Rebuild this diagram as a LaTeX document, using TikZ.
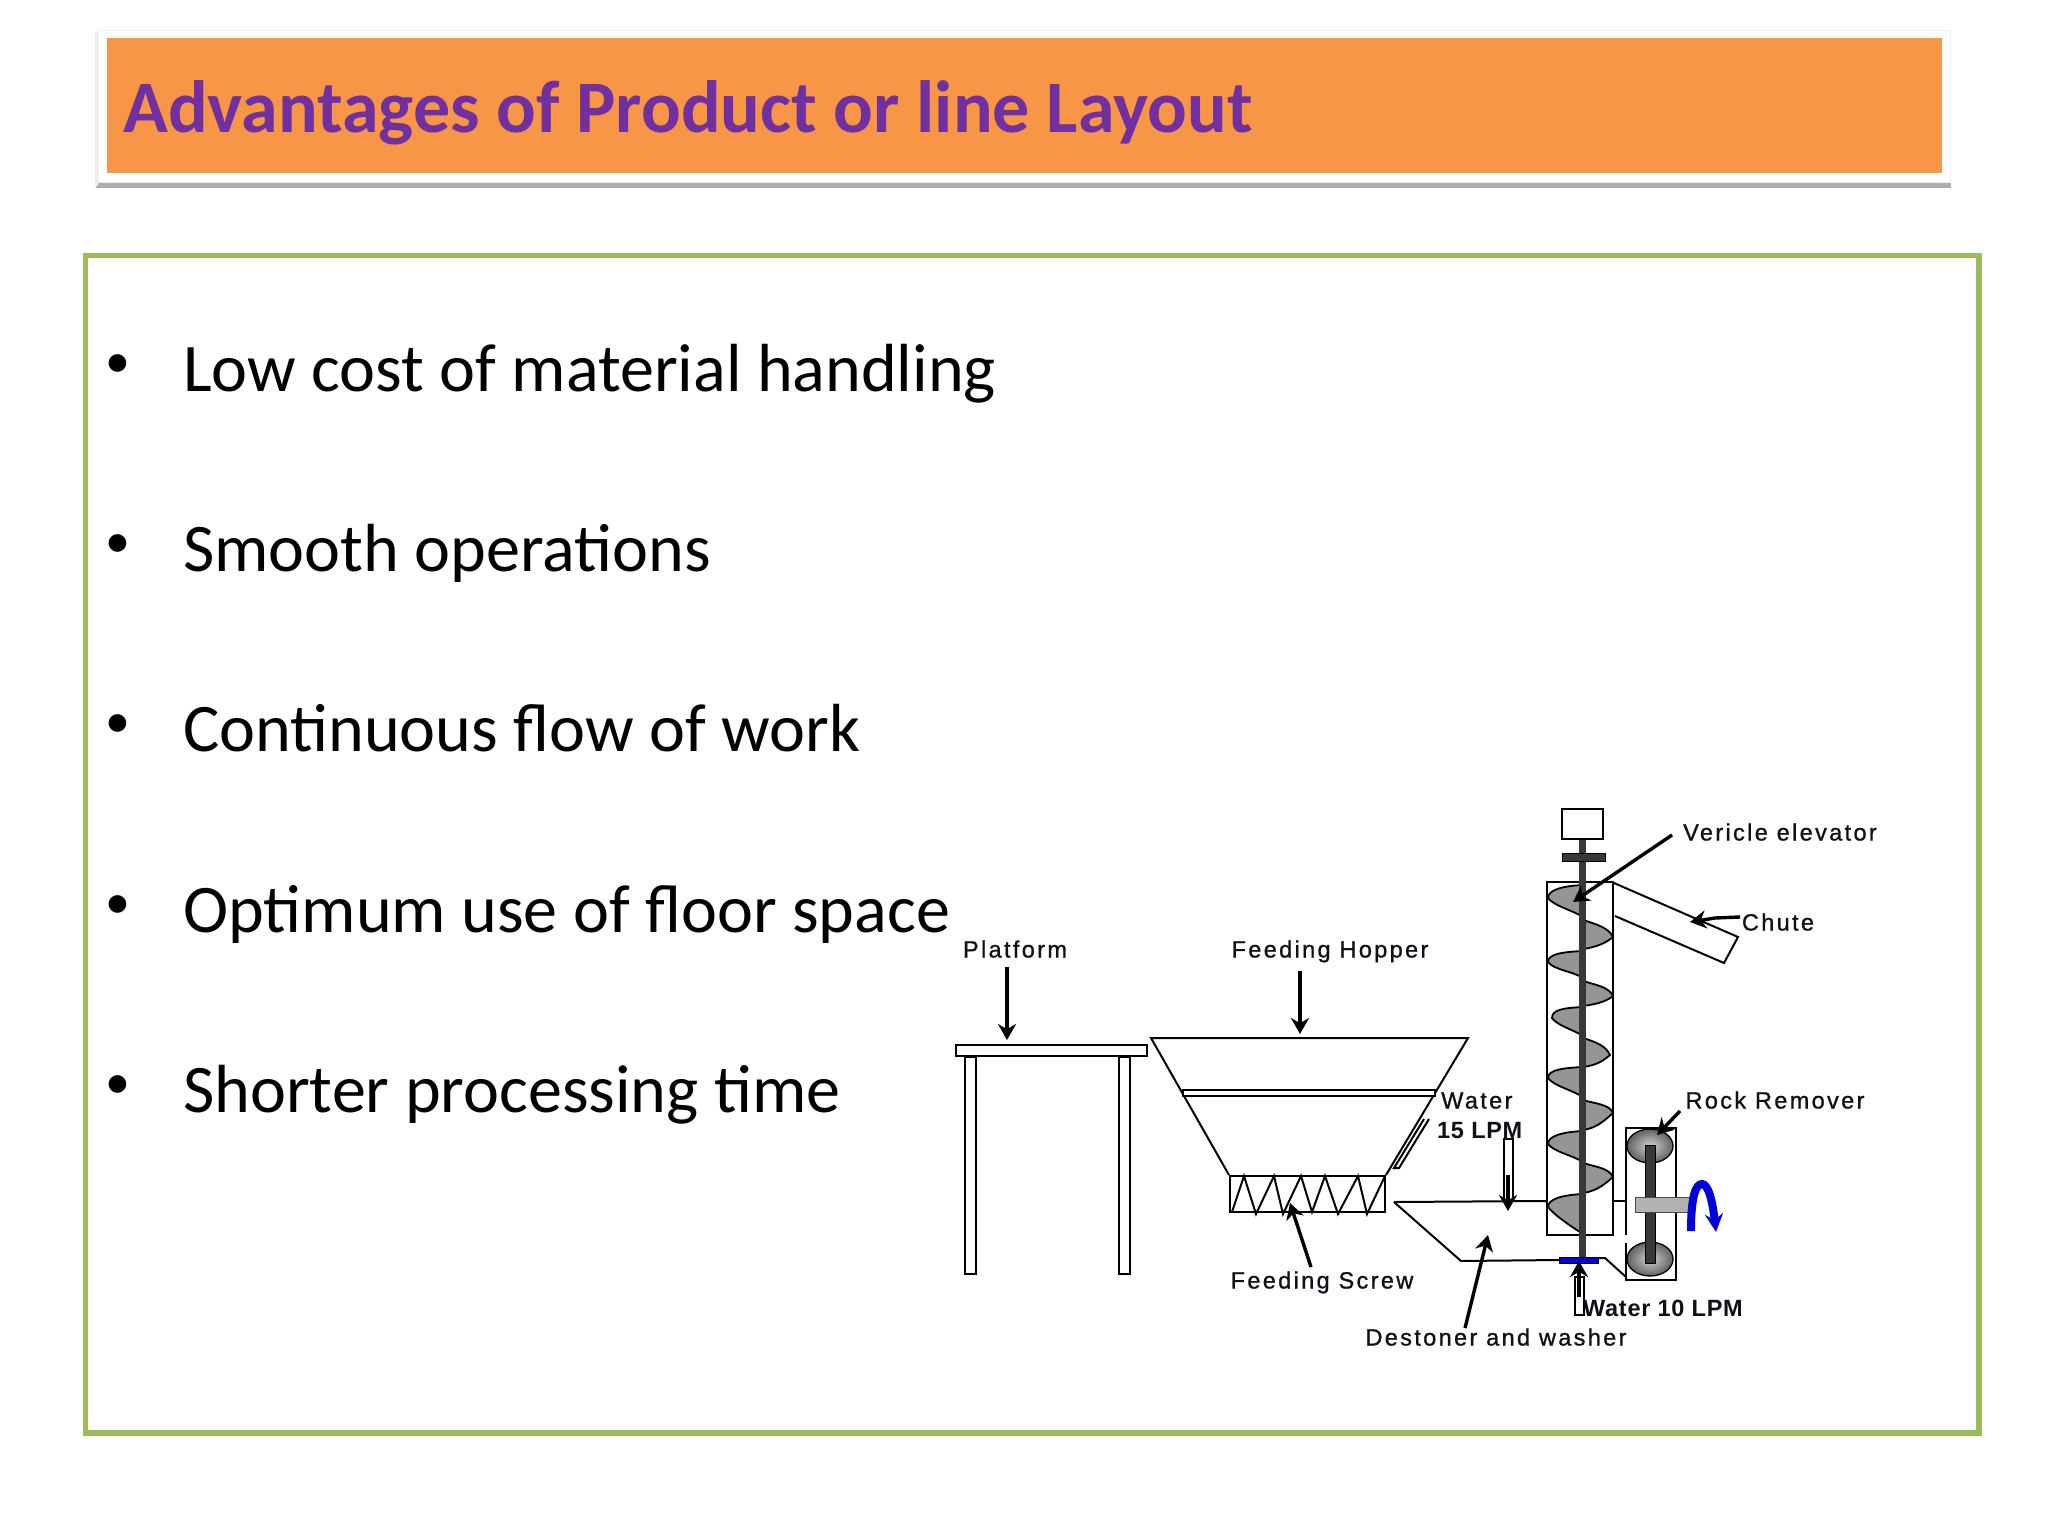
\documentclass[tikz,border=0pt]{standalone}
\usepackage{fontspec}
\usetikzlibrary{arrows.meta,shadings}
\setmainfont{Carlito}
\newfontfamily\lblfont[LetterSpace=10,FakeBold=1]{Liberation Sans}
\newfontfamily\lpmfont[LetterSpace=3]{Liberation Sans}
\definecolor{orangefill}{HTML}{F79646}
\definecolor{titlepurple}{HTML}{7030A0}
\definecolor{framegreen}{HTML}{9BBB59}
\definecolor{shaftgray}{HTML}{383838}
\definecolor{lobegray}{HTML}{959595}
\definecolor{inkblack}{HTML}{101018}
\tikzset{
  bodytext/.style={anchor=base west,inner sep=0pt,font=\fontsize{68.1}{76}\selectfont,text=black},
  bullettext/.style={anchor=center,inner sep=0pt,font=\fontsize{50}{60}\selectfont,text=black},
  lbl/.style={anchor=center,inner sep=0pt,text height=17pt,text depth=0pt,font=\lblfont\fontsize{23.5}{28}\selectfont,text=inkblack},
  lpm/.style={anchor=west,inner sep=0pt,text height=17pt,text depth=0pt,font=\lpmfont\bfseries\fontsize{23.5}{28}\selectfont,text=inkblack},
  thin part/.style={draw=black,line width=2pt,fill=white},
  plain/.style={draw=black,line width=2pt},
  pointer/.style={draw=black,line width=3.4pt,-{Stealth[length=16pt,width=18pt]}},
  lobe/.style={draw=black,line width=1.8pt,fill=lobegray},
  ball/.style={draw=black,line width=1.3pt,inner color=black!18,outer color=black!62},
}
\newcommand{\leftlobe}[4]{\draw[lobe] (1583,#1) .. controls (1562,#1+1) and (#2,#3-8) .. (#2,#3) .. controls (#2+6,#3+8) and (1572,#4-7) .. (1583,#4) -- cycle;}
\newcommand{\rightlobe}[4]{\draw[lobe] (1583,#1) .. controls (1596,#1+4) and (#2-4,#3-9) .. (#2,#3) .. controls (#2-6,#3+5) and (1598,#4-2) .. (1583,#4) -- cycle;}
\begin{document}
\begin{tikzpicture}[x=1pt,y=-1pt]
\useasboundingbox (0,0) rectangle (2048,1536);
\fill[white] (0,0) rectangle (2048,1536);
% title band
\fill[black!32] (96,180) rectangle (1951,188);
\fill[black!7] (95,32) rectangle (98,186);
\fill[white] (98,30) rectangle (1950,182);
\draw[black!6,line width=0.8pt] (98,30) rectangle (1950,182);
\fill[orangefill] (107,38) rectangle (1942,173);
\node[anchor=base west,inner sep=0pt,font=\fontsize{74}{80}\selectfont\bfseries,text=titlepurple] (title) at (123,133) {Advantages of Product or line Layout};
% frame
\draw[framegreen,line width=5.5pt] (85.5,255.5) rectangle (1979,1433);
% bullets
\node[bullettext] (b1) at (118,366) {•};
\node[bodytext] (t1) at (183,391) {Low cost of material handling};
\node[bullettext] (b2) at (118,546) {•};
\node[bodytext] (t2) at (183,571) {Smooth operations};
\node[bullettext] (b3) at (118,726) {•};
\node[bodytext] (t3) at (183,751) {Continuous flow of work};
\node[bullettext] (b4) at (118,907) {•};
\node[bodytext] (t4) at (183,932) {Optimum use of floor space};
\node[bullettext] (b5) at (118,1087) {•};
\node[bodytext] (t5) at (183,1112) {Shorter processing time};
% platform
\draw[thin part] (965,1057) rectangle (976,1274);
\draw[thin part] (1119,1057) rectangle (1130,1274);
\draw[thin part] (956,1045) rectangle (1147,1056);
\draw[black,line width=2.8pt] (956,1045) -- (1147,1045);
% hopper
\draw[plain] (1229,1175) -- (1151,1038) -- (1468,1038) -- (1386,1175);
\draw[thin part] (1183,1090) rectangle (1435,1096);
\draw[plain] (1424,1119) -- (1394,1168) -- (1399,1168) -- (1429,1119);
% screw
\draw[thin part] (1230,1176) rectangle (1385,1212);
\draw[plain] (1232,1212) -- (1244,1176) -- (1256,1214) -- (1274,1176) -- (1283,1214) -- (1301,1176) -- (1312,1212) -- (1325,1176) -- (1338,1214) -- (1358,1176) -- (1367,1214) -- (1385,1176);
% destoner
\draw[plain] (1394,1202) -- (1547,1201);
\draw[plain] (1394,1202) -- (1461,1261) -- (1559,1260);
\draw[plain] (1613,1201) -- (1626,1201);
\draw[plain] (1598,1258) -- (1605,1258) -- (1626,1277);
% elevator box
\draw[plain] (1547,882) rectangle (1613,1235);
% chute
\draw[plain] (1614,883) -- (1738,937) -- (1724,963) -- (1615,916);
% lobes
\leftlobe{885}{1548}{898}{917}
\rightlobe{920}{1613}{937}{949}
\leftlobe{951}{1548}{962}{978}
\rightlobe{981}{1613}{996}{1006}
\leftlobe{1007}{1552}{1018}{1036}
\rightlobe{1038}{1610}{1055}{1067}
\leftlobe{1067}{1548}{1078}{1097}
\rightlobe{1100}{1613}{1113}{1130}
\leftlobe{1131}{1548}{1144}{1162}
\rightlobe{1163}{1613}{1177}{1193}
\leftlobe{1194}{1548}{1207}{1234}
% shaft and top
\fill[shaftgray] (1579,839) rectangle (1586,1257);
\draw[thin part] (1562,809) rectangle (1603,839);
\fill[shaftgray,draw=black,line width=1pt] (1562,853) rectangle (1605,861);
% blue flange
\fill[blue!85!black,draw=black,line width=1pt] (1559,1257) rectangle (1598,1263);
% water tubes
\draw[thin part] (1575,1277) rectangle (1584,1315);
\draw[thin part] (1504,1139) rectangle (1513,1201);
% rock remover
\draw[plain] (1626,1235) -- (1626,1128) -- (1676,1128) -- (1676,1280) -- (1626,1280) -- (1626,1243);
\draw[ball] (1650,1146) ellipse (23 and 17);
\draw[ball] (1650,1259) ellipse (23 and 17);
\fill[shaftgray,draw=black,line width=.6pt] (1645,1145) rectangle (1655,1263);
\fill[black!30,draw=black!70,line width=.8pt] (1635,1197) rectangle (1690,1212);
\draw[blue!85!black,line width=8pt,-{Stealth[length=18pt,width=18pt]}] (1691,1231) .. controls (1691,1195) and (1696,1184) .. (1702,1184) .. controls (1709,1184) and (1713,1205) .. (1716,1232);
% labels
\node[lbl] (platform) at (1015,949) {Platform};
\node[lbl] (hopperlabel) at (1330,949) {Feeding Hopper};
\node[lbl] (screwlabel) at (1322,1280) {Feeding Screw};
\node[lbl] (destonerlabel) at (1496,1337) {Destoner and washer};
\node[lbl] (elevatorlabel) at (1780,832) {Vericle elevator};
\node[lbl] (chutelabel) at (1778,922) {Chute};
\node[lbl] (rocklabel) at (1775,1100) {Rock Remover};
\node[lbl,anchor=west] (w15a) at (1441,1100) {Water};
\node[lpm] (w15b) at (1437,1130) {15 LPM};
\node[lpm] (w10) at (1583,1308) {Water 10 LPM};
% pointers
\coordinate (pa) at (1007,967); \coordinate (pb) at (1007,1040);
\coordinate (ha) at (1300,971); \coordinate (hb) at (1300,1034);
\coordinate (sa) at (1311,1267); \coordinate (sb) at (1290,1203);
\coordinate (da) at (1465,1328); \coordinate (db) at (1488,1235);
\coordinate (ea) at (1672,835); \coordinate (eb) at (1573,902);
\coordinate (ca) at (1740,917); \coordinate (cb) at (1690,922);
\coordinate (ra) at (1680,1111); \coordinate (rb) at (1657,1135);
\coordinate (wa) at (1508,1175); \coordinate (wb) at (1508,1211);
\coordinate (va) at (1579,1297); \coordinate (vb) at (1579,1261);
\draw[pointer] (pa) -- (pb);
\draw[pointer] (ha) -- (hb);
\draw[pointer] (sa) -- (sb);
\draw[pointer] (da) -- (db);
\draw[pointer] (ea) -- (eb);
\draw[pointer] (ca) -- (1715,918) -- (cb);
\draw[pointer] (ra) -- (rb);
\draw[pointer] (wa) -- (wb);
\draw[pointer] (va) -- (vb);
\end{tikzpicture}
\end{document}
